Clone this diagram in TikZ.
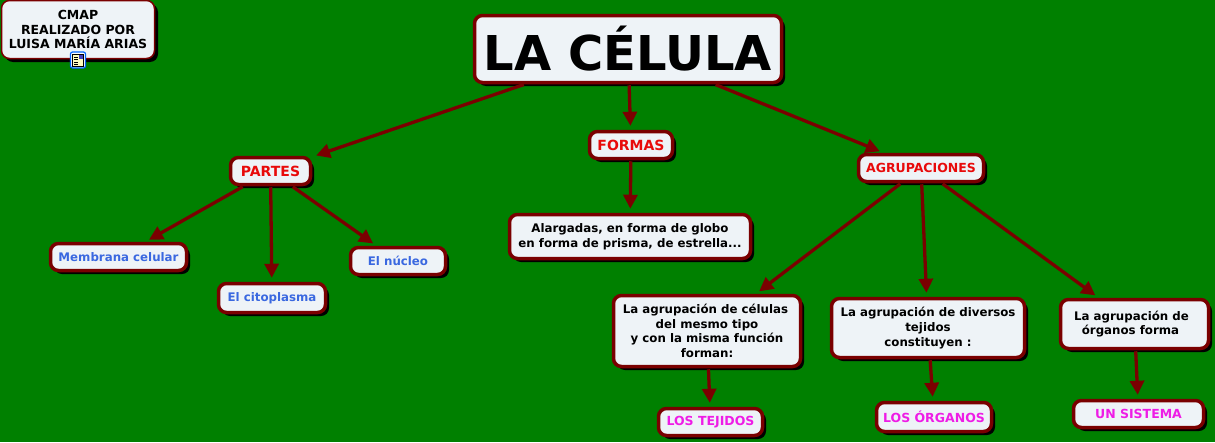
\documentclass[tikz,border=0pt]{standalone}
\usepackage{fontspec}
\setmainfont{DejaVu Sans}
\usetikzlibrary{arrows.meta,shadows}
\definecolor{bg}{HTML}{008000}
\definecolor{lnk}{HTML}{7A0000}
\definecolor{boxfill}{HTML}{EEF3F7}
\definecolor{redtx}{HTML}{E80A0A}
\definecolor{bluetx}{HTML}{3A68E0}
\definecolor{magtx}{HTML}{EE1CE6}
\tikzset{
  cbox/.style={draw=lnk,line width=3.5pt,fill=boxfill,rounded corners=8pt,align=center,inner sep=0pt,
    font=\bfseries\fontsize{11.8}{14.6}\selectfont,text=black,
    general shadow={shadow xshift=3.5pt,shadow yshift=-3.5pt,fill=black}},
  capsfont/.style={font=\bfseries\fontsize{12.5}{14.6}\selectfont},
  lnkline/.style={draw=lnk,line width=3.3pt,-{Triangle[length=14pt,width=14pt]},shorten >=4pt,shorten <=1pt},
}
\newcommand{\bx}[7][]{% opts, name, x0,y0,x1,y1,text
  \node[cbox,#1,minimum width=#5pt-#3pt-1pt,minimum height=#6pt-#4pt-1pt] (#2) at ({(#3+#5)/2},{(#4+#6)/2}) {#7};}
\begin{document}
\begin{tikzpicture}[x=1pt,y=-1pt]
\useasboundingbox[fill=bg] (0,0) rectangle (1215,442);
\bx[line width=1.5pt,capsfont]{cmap}{1}{0}{155}{59}{CMAP\\REALIZADO POR\\LUISA MARÍA ARIAS}
\bx[font=\bfseries\fontsize{48}{56}\selectfont]{root}{474}{15}{782}{83}{LA CÉLULA}
\bx[text=redtx,font=\bfseries\fontsize{14}{16}\selectfont]{partes}{230}{157}{311}{185}{PARTES}
\bx[text=redtx,font=\bfseries\fontsize{14}{16}\selectfont]{formas}{589}{131}{673}{159}{FORMAS}
\bx[text=redtx,capsfont]{agrup}{858}{154}{984}{182}{AGRUPACIONES}
\bx[text=bluetx]{memb}{50}{243}{187}{271}{Membrana celular}
\bx[text=bluetx]{cito}{218}{283}{326}{313}{El citoplasma}
\bx[text=bluetx]{nucl}{350}{247}{446}{275}{El núcleo}
\bx{alar}{509}{214}{751}{259}{Alargadas, en forma de globo\\en forma de prisma, de estrella...}
\bx{cel}{613}{295}{801}{367}{La agrupación de células\hspace*{3pt}\\del mesmo tipo\hspace*{4pt}\\y con la misma función\\forman:}
\bx{div}{831}{298}{1025}{358}{La agrupación de diversos\\tejidos\hspace*{4pt}\\constituyen :}
\bx{org}{1060}{299}{1209}{349}{La agrupación de\hspace*{6pt}\\órganos forma\hspace*{8pt}}
\bx[text=magtx,capsfont]{tej}{658}{408}{763}{436}{LOS TEJIDOS}
\bx[text=magtx,capsfont]{los}{876}{402}{992}{432}{LOS ÓRGANOS}
\bx[text=magtx,capsfont]{sis}{1073}{400}{1204}{428}{UN SISTEMA}
\foreach \a/\b in {root/partes,root/formas,root/agrup,partes/memb,partes/cito,partes/nucl,formas/alar,agrup/cel,agrup/div,agrup/org,cel/tej,div/los,org/sis}
  \draw[lnkline] (\a) -- (\b);
% document icon on the CMAP box
\node[draw=blue!60!cyan,line width=1.2pt,fill=white,rounded corners=2pt,minimum width=15pt,minimum height=16pt,inner sep=0pt,
  outer sep=0pt] (icon) at (78,60) {};
\fill[yellow!25] (72.5,54) rectangle (83.5,66);
\draw[black,line width=.8pt] (72.5,54) rectangle (83.5,66);
\foreach \yy in {57,59.5,62,64}
  \draw[black,line width=.8pt] (74,\yy) -- (78,\yy);
\fill[blue!50!gray] (79,55) rectangle (83,59);
\end{tikzpicture}
\end{document}
